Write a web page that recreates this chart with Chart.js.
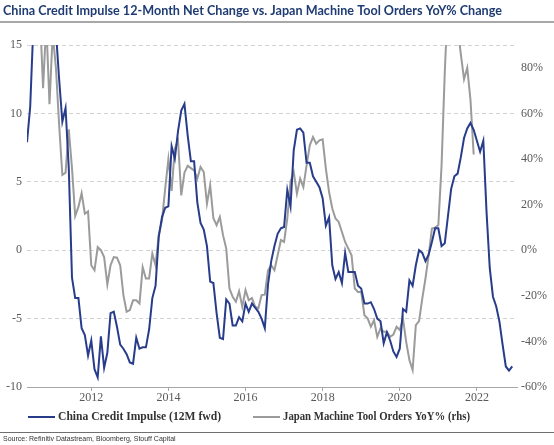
<!DOCTYPE html>
<html>
<head>
<meta charset="utf-8">
<script src="https://cdn.jsdelivr.net/npm/chart.js@4.4.0/dist/chart.umd.min.js"></script>
<style>
  html, body { margin: 0; padding: 0; background: #fff; }
</style>
</head>
<body>
<canvas id="chart" width="554" height="445"></canvas>
<script>
// monthly series, first point = May 2010
const startYear = 2010 + 4 / 12
const xTickYears = [2012, 2014, 2016, 2018, 2020, 2022]
const leftTicks = [-10, -5, 0, 5, 10, 15]
const rightTicks = [-60, -40, -20, 0, 20, 40, 60, 80]

// China credit impulse, 12M net change (12M fwd), % of GDP
const creditImpulse = [
  7.9, 10.5, 16.5, 18.5, 19.5, 20, 19.5, 18.5, 17.5, 16,
  12.5, 9.4, 10.4, 6.0, -2.0, -3.5, -3.5, -5.7, -6.2, -7.7,
  -6.6, -8.7, -9.3, -6.3, -8.6, -7.5, -4.6, -4.5, -5.6, -6.9,
  -7.2, -7.6, -8.2, -8.3, -6.4, -7.2, -7.1, -7.1, -5.8, -3.5,
  -2.6, 1.0, 2.4, 3.1, 3.2, 7.6, 6.7, 8.7, 10.2, 10.7,
  8.4, 6.5, 6.5, 3.5, 2.0, 1.5, 0.3, -2.3, -2.4, -4.6,
  -6.4, -6.5, -3.6, -3.9, -5.5, -5.5, -4.9, -5.2, -3.9, -4.5,
  -3.9, -4.2, -4.5, -5.0, -5.7, -2.5, -0.8, 0.3, 1.2, 1.6,
  1.7, 4.4, 3.2, 7.3, 8.8, 8.9, 8.6, 6.4, 6.4, 5.4,
  5.0, 4.6, 3.8, 1.8, 2.4, -1.1, -2.1, -1.6, -2.4, -0.2,
  -1.6, -1.6, -1.6, -2.6, -2.8, -3.9, -3.9, -3.8, -4.3, -5.0,
  -5.2, -6.8, -6.0, -6.6, -7.4, -7.8, -7.2, -4.3, -4.5, -2.2,
  -2.6, -1.1, 0.0, -0.2, -0.8, -0.3, 0.6, 1.6, 1.6, 0.3,
  0.5, 2.5, 4.5, 5.4, 5.6, 6.8, 8.2, 8.9, 9.3, 8.8,
  8.0, 7.2, 8.0, 2.8, -1.3, -3.4, -4.1, -5.2, -6.9, -8.5,
  -8.8, -8.5
]

// Japan machine tool orders, YoY %
const machineOrders = [
  150, 140, 130, 120, 105, 71, 100, 64, 95, 80,
  55, 33, 34, 53, 36, 15, 19, 25, 16, 17,
  -6.6, -8.8, 1.4, 0, -3, -15, -6.6, -3, -3.3, -6.6,
  -19.7, -27, -26.3, -22, -22, -23.4, -7.5, -12.4, -12.4, -1.5,
  -6.6, 6.6, 13, 27, 40, 26, 44.5, 48, 24, 34,
  37, 36, 35, 31.4, 36.5, 34.3, 20.4, 28.5, 14, 11,
  14.6, 6.6, 0.7, -16.8, -20.4, -22.6, -18, -24.8, -17.5, -21.9,
  -21, -24.8, -25.5, -19.7, -19.5, -8.8, -6.6, -8.8, -2.2, 4.4,
  3.6, 13.9, 30, 34.3, 24.8, 31.4, 27.7, 37.2, 46, 49.6,
  46.7, 48.2, 48.6, 35.8, 25.5, 18.3, 13.9, 12.4, 8, 3.6,
  0.7, -2.2, -16.8, -18.3, -18.3, -28.5, -29.9, -33.6, -30.7, -38,
  -34.3, -35.8, -35.8, -38, -37, -33.6, -35, -30, -40.2, -48.2,
  -52.6, -32.9, -31.1, -21.2, -12.4, -2.2, 9.5, 9.9, 11, 37,
  78, 110, 120, 115, 98, 86, 75, 80, 66, 42
]

const titleText = 'China Credit Impulse 12-Month Net Change vs. Japan Machine Tool Orders YoY% Change'
const sourceText = 'Source: Refinitiv Datastream, Bloomberg, Stouff Capital'

const blue = '#283c8c'
const grey = '#9b9b9b'
const tickFont = { family: '"Liberation Serif", "Times New Roman", serif', size: 12 }

const toPoints = arr => arr.map((v, i) => ({ x: startYear + i / 12, y: v }))

// title, rules, legend and source line around the plot
const framePlugin = {
  id: 'frame',
  afterDraw(chart) {
    const ctx = chart.ctx
    ctx.save()
    ctx.textBaseline = 'middle'
    ctx.fillStyle = '#1f3b73'
    ctx.font = 'bold 13.5px Lato, "Open Sans", sans-serif'
    ctx.fillText(titleText, 3, 10.5, 499)

    ctx.strokeStyle = '#a8a8a8'
    ctx.lineWidth = 2
    ctx.beginPath(); ctx.moveTo(0, 22); ctx.lineTo(554, 22); ctx.stroke()

    const lineX = [28, 253]
    const textWidths = [163, 187]
    chart.data.datasets.forEach((ds, i) => {
      ctx.strokeStyle = ds.borderColor
      ctx.lineWidth = 2
      ctx.beginPath(); ctx.moveTo(lineX[i], 417); ctx.lineTo(lineX[i] + 27, 417); ctx.stroke()
      ctx.fillStyle = '#333'
      ctx.font = 'bold 12px "Liberation Serif", "Times New Roman", serif'
      ctx.fillText(ds.label, lineX[i] + 30, 417, textWidths[i])
    })

    ctx.strokeStyle = '#6f6f6f'
    ctx.lineWidth = 1
    ctx.beginPath(); ctx.moveTo(0, 432.5); ctx.lineTo(554, 432.5); ctx.stroke()
    ctx.fillStyle = '#333'
    ctx.font = '7px "Liberation Sans", Arial, sans-serif'
    ctx.fillText(sourceText, 3, 439.5)
    ctx.restore()
  }
}

new Chart(document.getElementById('chart'), {
  type: 'line',
  data: {
    datasets: [
      {
        label: 'China Credit Impulse (12M fwd)',
        data: toPoints(creditImpulse),
        borderColor: blue,
        borderWidth: 2,
        pointRadius: 0,
        tension: 0,
        yAxisID: 'y'
      },
      {
        label: 'Japan Machine Tool Orders YoY% (rhs)',
        data: toPoints(machineOrders),
        borderColor: grey,
        borderWidth: 2,
        pointRadius: 0,
        tension: 0,
        yAxisID: 'y1'
      }
    ]
  },
  options: {
    responsive: false,
    animation: false,
    layout: { padding: { top: 45, bottom: 40, left: 0, right: 0 } },
    plugins: {
      legend: { display: false },
      tooltip: { enabled: false }
    },
    scales: {
      x: {
        type: 'linear',
        min: startYear,
        max: 2023.04,
        afterBuildTicks: scale => { scale.ticks = xTickYears.map(v => ({ value: v })) },
        afterFit: scale => { scale.height = 18 },
        ticks: {
          callback: v => String(v),
          font: tickFont,
          color: '#595959',
          padding: 0,
          maxRotation: 0,
          autoSkip: false
        },
        grid: { drawOnChartArea: false, drawTicks: true, tickLength: 4, color: '#a8a8a8' },
        border: { display: true, color: '#a8a8a8', width: 1 }
      },
      y: {
        position: 'left',
        min: -10,
        max: 15,
        afterBuildTicks: scale => { scale.ticks = leftTicks.map(v => ({ value: v })) },
        afterFit: scale => { scale.width = 27 },
        ticks: { font: tickFont, color: '#595959', padding: 5 },
        grid: {
          drawTicks: false,
          color: c => (c.tick && c.tick.value === -10 ? 'rgba(0,0,0,0)' : '#d2d2d2')
        },
        border: { display: false, dash: [4, 3] }
      },
      y1: {
        position: 'right',
        min: -60,
        max: 90,
        afterBuildTicks: scale => { scale.ticks = rightTicks.map(v => ({ value: v })) },
        afterFit: scale => { scale.width = 37 },
        ticks: { font: tickFont, color: '#595959', padding: 4, callback: v => v + '%' },
        grid: { display: false, drawTicks: false },
        border: { display: false }
      }
    }
  },
  plugins: [framePlugin]
})
</script>
</body>
</html>
